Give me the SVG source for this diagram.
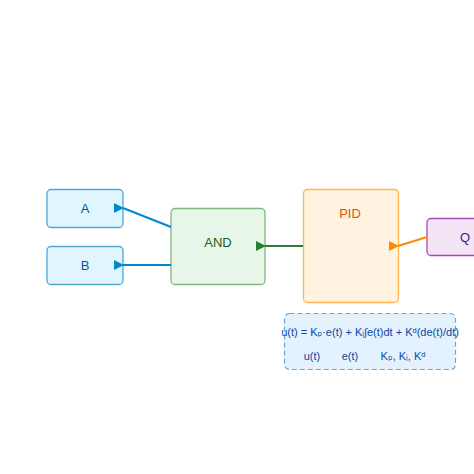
<svg xmlns="http://www.w3.org/2000/svg" width="474" height="474" viewBox="0 0 474 474">
<style>
text{font-family:"Liberation Sans","DejaVu Sans",sans-serif;text-anchor:middle}
.io{fill:#e1f5fe;stroke:#4fa8db;stroke-width:1.3}
.io-t{fill:#01579b;font-size:13px}
.and{fill:#e8f5e9;stroke:#81b985;stroke-width:1.3}
.and-t{fill:#1b5e20;font-size:13px}
.pid{fill:#fff3e0;stroke:#ffb74d;stroke-width:1.3}
.pid-t{fill:#e65100;font-size:13px}
.q{fill:#f3e5f5;stroke:#ab47bc;stroke-width:1.3}
.q-t{fill:#4a148c;font-size:13px}
.note{fill:#e3f2fd;stroke:#64a6e0;stroke-width:1.2;stroke-dasharray:5 3}
.note-t{fill:#0d47a1;font-size:11px}
</style>
<rect width="474" height="474" fill="#ffffff"/>
<g id="node-A">
<rect class="io" x="47" y="189.5" width="76" height="38" rx="4"/>
<text class="io-t" x="85" y="213">A</text>
</g>
<g id="node-B">
<rect class="io" x="47" y="246.5" width="76" height="38" rx="4"/>
<text class="io-t" x="85" y="270">B</text>
</g>
<g id="node-AND">
<rect class="and" x="171" y="208.5" width="94" height="76" rx="4"/>
<text class="and-t" x="218" y="247">AND</text>
</g>
<g id="node-PID">
<rect class="pid" x="303.5" y="189.5" width="95" height="113" rx="4"/>
<text class="pid-t" x="350" y="218">PID</text>
</g>
<g id="node-Q">
<rect class="q" x="427" y="218.5" width="60" height="37" rx="4"/>
<text class="q-t" x="465" y="242">Q</text>
</g>
<g id="note">
<rect class="note" x="284.5" y="313.5" width="171" height="56" rx="5"/>
<text class="note-t" x="370" y="336">u(t) = Kₚ·e(t) + Kᵢ∫e(t)dt + Kᵈ(de(t)/dt)</text>
<text class="note-t" x="370" y="360"><tspan x="312">u(t)</tspan><tspan x="350">e(t)</tspan><tspan x="403">Kₚ, Kᵢ, Kᵈ</tspan></text>
</g>
<g id="connectors">
<line x1="123" y1="208" x2="171" y2="227" stroke="#0288d1" stroke-width="2"/>
<polygon points="114,203 124,208 114,213" fill="#0288d1"/>
<line x1="123" y1="265" x2="171" y2="265" stroke="#0288d1" stroke-width="2"/>
<polygon points="114,260 124,265 114,270" fill="#0288d1"/>
<line x1="265" y1="246" x2="303" y2="246" stroke="#2e7d32" stroke-width="2"/>
<polygon points="256,241 266,246 256,251" fill="#2e7d32"/>
<line x1="398" y1="246" x2="427" y2="237" stroke="#fb8c00" stroke-width="2"/>
<polygon points="389,241 399,246 389,251" fill="#fb8c00"/>
</g>
</svg>
